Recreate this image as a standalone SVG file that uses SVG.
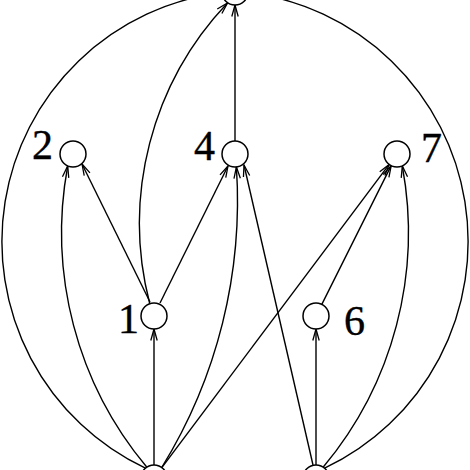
<svg xmlns="http://www.w3.org/2000/svg" width="470" height="470" viewBox="0 0 470 470">
<style>
.edge{fill:none;stroke:#000;stroke-width:1.4;marker-end:url(#arr)}
.node circle{fill:#fff;stroke:#000;stroke-width:1.5}
.lbl{font-family:"Liberation Serif","Times New Roman",serif;font-size:42px;fill:#000;stroke:#000;stroke-width:0.4}
</style>
<defs>
<marker id="arr" markerUnits="userSpaceOnUse" markerWidth="14" markerHeight="10" refX="12" refY="4" orient="auto" overflow="visible">
<path d="M0.5,0.8 L12,4 L0.5,7.2" fill="none" stroke="#000" stroke-width="1.3"/>
</marker>
</defs>
<rect width="470" height="470" fill="#fff"/>
<g id="connectors">
<path class="edge" d="M145.4,468.2 A250.8,250.8 0 0 1 222,-7.4"/>
<path class="edge" d="M324.6,468.2 A250.8,250.8 0 0 0 248,-7.4"/>
<path class="edge" d="M146.7,467 A365.3,365.3 0 0 1 67.7,166"/>
<path class="edge" d="M323.3,467 A365.3,365.3 0 0 0 402.3,166"/>
<path class="edge" d="M161.7,467.5 A507.5,507.5 0 0 0 236.4,167"/>
<path class="edge" d="M149.7,303.5 A320,320 0 0 1 227.5,2.9"/>
<path class="edge" d="M235,141 L235,5"/>
<path class="edge" d="M150,302 L82,164"/>
<path class="edge" d="M160,303 L228,166"/>
<path class="edge" d="M154,465 L154,329"/>
<path class="edge" d="M316,465 L316,329"/>
<path class="edge" d="M161.8,467.6 L389.2,164.4"/>
<path class="edge" d="M321.8,304.4 L391.2,165.6"/>
<path class="edge" d="M313,465 L244,165"/>
</g>
<g id="n_top" class="node"><circle cx="235" cy="-8" r="13"/></g>
<g id="n2" class="node"><circle cx="73" cy="154" r="13"/><text class="lbl" x="32" y="159">2</text></g>
<g id="n4" class="node"><circle cx="235" cy="154" r="13"/><text class="lbl" x="194" y="160">4</text></g>
<g id="n7" class="node"><circle cx="397" cy="154" r="13"/><text class="lbl" x="421" y="162">7</text></g>
<g id="n1" class="node"><circle cx="154" cy="316" r="13"/><text class="lbl" x="118" y="333">1</text></g>
<g id="n6" class="node"><circle cx="316" cy="316" r="13"/><text class="lbl" x="344" y="335">6</text></g>
<g id="n_b1" class="node"><circle cx="154" cy="478" r="13"/></g>
<g id="n_b2" class="node"><circle cx="316" cy="478" r="13"/></g>
</svg>
